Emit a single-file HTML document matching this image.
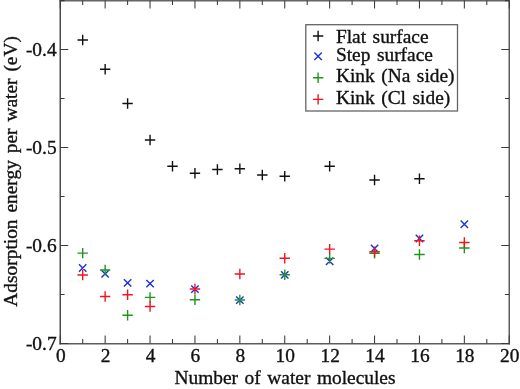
<!DOCTYPE html><html><head><meta charset="utf-8"><title>Adsorption energy per water</title><style>html,body{margin:0;padding:0;background:#fff}svg{display:block}text{font-family:"Liberation Serif","Times New Roman",serif;font-size:19.4px;word-spacing:1.7px;fill:#111;stroke:#111;stroke-width:0.35px}</style></head><body>
<svg width="520" height="389" viewBox="0 0 520 389">
<rect width="520" height="389" fill="#fff"/>
<path d="M59.50 0.6H510.00" stroke="#666" stroke-width="1.6" fill="none"/>
<path d="M59.50 343.85H510.00" stroke="#5c5c5c" stroke-width="1.5" fill="none"/>
<path d="M60.25 0V344.6" stroke="#4c4c4c" stroke-width="1.5" fill="none"/>
<path d="M509.25 0V344.6" stroke="#5c5c5c" stroke-width="1.5" fill="none"/>
<path d="M60.25 343.40v-8.0M60.25 0.60v8.0M82.70 343.40v-4.3M82.70 0.60v4.3M105.15 343.40v-8.0M105.15 0.60v8.0M127.60 343.40v-4.3M127.60 0.60v4.3M150.05 343.40v-8.0M150.05 0.60v8.0M172.50 343.40v-4.3M172.50 0.60v4.3M194.95 343.40v-8.0M194.95 0.60v8.0M217.40 343.40v-4.3M217.40 0.60v4.3M239.85 343.40v-8.0M239.85 0.60v8.0M262.30 343.40v-4.3M262.30 0.60v4.3M284.75 343.40v-8.0M284.75 0.60v8.0M307.20 343.40v-4.3M307.20 0.60v4.3M329.65 343.40v-8.0M329.65 0.60v8.0M352.10 343.40v-4.3M352.10 0.60v4.3M374.55 343.40v-8.0M374.55 0.60v8.0M397.00 343.40v-4.3M397.00 0.60v4.3M419.45 343.40v-8.0M419.45 0.60v8.0M441.90 343.40v-4.3M441.90 0.60v4.3M464.35 343.40v-8.0M464.35 0.60v8.0M486.80 343.40v-4.3M486.80 0.60v4.3M509.25 343.40v-8.0M509.25 0.60v8.0M60.25 343.40h8.0M509.25 343.40h-8.0M60.25 294.43h4.3M509.25 294.43h-4.3M60.25 245.46h8.0M509.25 245.46h-8.0M60.25 196.49h4.3M509.25 196.49h-4.3M60.25 147.51h8.0M509.25 147.51h-8.0M60.25 98.54h4.3M509.25 98.54h-4.3M60.25 49.57h8.0M509.25 49.57h-8.0M60.25 0.60h4.3M509.25 0.60h-4.3" stroke="#3a3a3a" stroke-width="1.05" fill="none"/>
<text x="60.75" y="362" text-anchor="middle">0</text>
<text x="105.65" y="362" text-anchor="middle">2</text>
<text x="150.55" y="362" text-anchor="middle">4</text>
<text x="195.45" y="362" text-anchor="middle">6</text>
<text x="240.35" y="362" text-anchor="middle">8</text>
<text x="285.25" y="362" text-anchor="middle">10</text>
<text x="330.15" y="362" text-anchor="middle">12</text>
<text x="375.05" y="362" text-anchor="middle">14</text>
<text x="419.95" y="362" text-anchor="middle">16</text>
<text x="464.85" y="362" text-anchor="middle">18</text>
<text x="509.75" y="362" text-anchor="middle">20</text>
<text x="56.6" y="56.07" text-anchor="end">-0.4</text>
<text x="56.6" y="154.01" text-anchor="end">-0.5</text>
<text x="56.6" y="251.96" text-anchor="end">-0.6</text>
<text x="56.6" y="349.90" text-anchor="end">-0.7</text>
<text x="285.0" y="384.1" text-anchor="middle">Number of water molecules</text>
<text transform="translate(16.6 171.4) rotate(-90)" text-anchor="middle" style="word-spacing:2.05px">Adsorption energy per water (eV)</text>
<rect x="305.8" y="24.7" width="151.7" height="86.3" fill="#fff" stroke="#646464" stroke-width="1.3"/>
<path d="M77.50 40.00h10.4M82.70 34.80v10.4M99.95 69.25h10.4M105.15 64.05v10.4M122.40 103.50h10.4M127.60 98.30v10.4M144.85 140.00h10.4M150.05 134.80v10.4M167.30 166.25h10.4M172.50 161.05v10.4M189.75 173.25h10.4M194.95 168.05v10.4M212.20 169.50h10.4M217.40 164.30v10.4M234.65 168.75h10.4M239.85 163.55v10.4M257.10 175.00h10.4M262.30 169.80v10.4M279.55 176.25h10.4M284.75 171.05v10.4M324.45 166.25h10.4M329.65 161.05v10.4M369.35 180.00h10.4M374.55 174.80v10.4M414.25 178.75h10.4M419.45 173.55v10.4M312.90 36.00h10.4M318.10 30.80v10.4" stroke="#111" stroke-width="1.4" fill="none"/>
<path d="M79.00 264.30l7.4 7.4M79.00 271.70l7.4 -7.4M101.45 270.20l7.4 7.4M101.45 277.60l7.4 -7.4M123.90 279.20l7.4 7.4M123.90 286.60l7.4 -7.4M146.35 279.95l7.4 7.4M146.35 287.35l7.4 -7.4M191.25 285.45l7.4 7.4M191.25 292.85l7.4 -7.4M236.15 296.45l7.4 7.4M236.15 303.85l7.4 -7.4M281.05 271.20l7.4 7.4M281.05 278.60l7.4 -7.4M325.95 257.50l7.4 7.4M325.95 264.90l7.4 -7.4M370.85 244.80l7.4 7.4M370.85 252.20l7.4 -7.4M415.75 234.80l7.4 7.4M415.75 242.20l7.4 -7.4M460.65 220.50l7.4 7.4M460.65 227.90l7.4 -7.4M314.40 52.60l7.4 7.4M314.40 60.00l7.4 -7.4" stroke="#1a2fe0" stroke-width="1.4" fill="none"/>
<path d="M77.50 253.10h10.4M82.70 247.90v10.4M99.95 270.00h10.4M105.15 264.80v10.4M122.40 315.20h10.4M127.60 310.00v10.4M144.85 297.40h10.4M150.05 292.20v10.4M189.75 299.70h10.4M194.95 294.50v10.4M234.65 299.95h10.4M239.85 294.75v10.4M279.55 274.70h10.4M284.75 269.50v10.4M324.45 258.40h10.4M329.65 253.20v10.4M369.35 253.20h10.4M374.55 248.00v10.4M414.25 254.50h10.4M419.45 249.30v10.4M459.15 248.00h10.4M464.35 242.80v10.4M312.90 77.80h10.4M318.10 72.60v10.4" stroke="#1f9619" stroke-width="1.4" fill="none"/>
<path d="M77.50 275.00h10.4M82.70 269.80v10.4M99.95 296.45h10.4M105.15 291.25v10.4M122.40 294.70h10.4M127.60 289.50v10.4M144.85 306.45h10.4M150.05 301.25v10.4M189.75 288.95h10.4M194.95 283.75v10.4M234.65 273.95h10.4M239.85 268.75v10.4M279.55 258.20h10.4M284.75 253.00v10.4M324.45 249.10h10.4M329.65 243.90v10.4M369.35 251.80h10.4M374.55 246.60v10.4M414.25 240.80h10.4M419.45 235.60v10.4M459.15 242.50h10.4M464.35 237.30v10.4M312.90 99.40h10.4M318.10 94.20v10.4" stroke="#f0141e" stroke-width="1.4" fill="none"/>
<text x="335.9" y="42.699999999999996">Flat surface</text>
<text x="335.9" y="60.5">Step surface</text>
<text x="335.9" y="82.3">Kink (Na side)</text>
<text x="335.9" y="103.5">Kink (Cl side)</text>
</svg></body></html>
